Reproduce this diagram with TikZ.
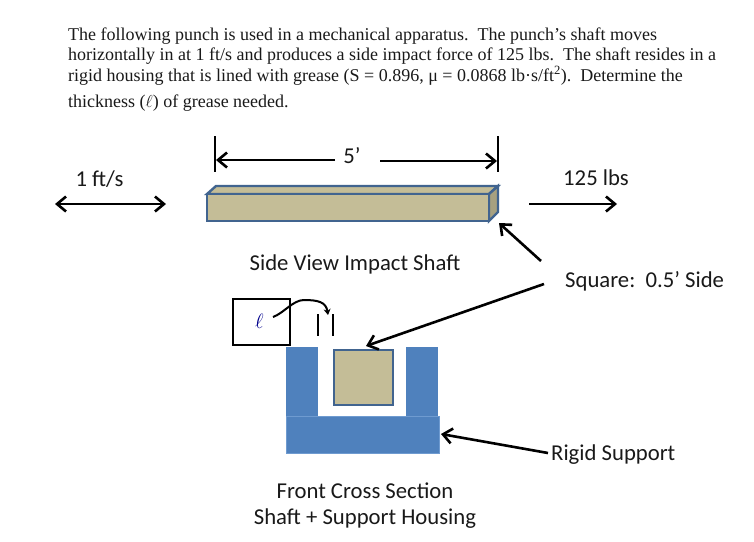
\documentclass[tikz,border=0pt]{standalone}
\usepackage{fontspec}
\setmainfont{Liberation Serif}
\newfontfamily\labelfont{Carlito}
\usetikzlibrary{arrows.meta}
\definecolor{shaftfill}{HTML}{C4BD97}
\definecolor{shaftedge}{HTML}{41648F}
\definecolor{housing}{HTML}{4F81BD}
\definecolor{housingedge}{HTML}{6F9BD0}
\tikzset{
  para/.style={anchor=base west,inner sep=0pt,font=\fontsize{18}{20}\selectfont,text=black!90},
  lbl/.style={inner sep=0pt,font=\labelfont\fontsize{22.7}{26}\selectfont,text=black!90},
  shaftface/.style={fill=shaftfill,draw=shaftedge,line width=2.4pt,line join=miter},
  housingblock/.style={fill=housing,draw=none},
  conn/.style={line width=2.6pt,black,-{Straight Barb[length=9pt,width=15pt,line width=2.6pt]}},
  connboth/.style={line width=2.6pt,black,{Straight Barb[length=9pt,width=15pt,line width=2.6pt]}-{Straight Barb[length=9pt,width=15pt,line width=2.6pt]}},
  tick/.style={line width=2.6pt,black}
}
\begin{document}
\begin{tikzpicture}[x=1pt,y=-1pt]
\useasboundingbox (0,0) rectangle (754,541);
% problem statement
\node[para] (l1) at (68,40) {The following punch is used in a mechanical apparatus.\ \ The punch’s shaft moves};
\node[para] (l2) at (68,60.5) {horizontally in at 1 ft/s and produces a side impact force of 125 lbs.\ \ The shaft resides in a};
\node[para] (l3) at (68,81) {rigid housing that is lined with grease (S = 0.896, μ = 0.0868 lb·s/ft\textsuperscript{2}).\ \ Determine the};
\node[para] (l4) at (68,107) {thickness ($\ell$) of grease needed.};
% side view shaft
\draw[shaftface] (207,194) -- (216,186) -- (498,186) -- (489,194) -- cycle;
\draw[shaftface,fill=shaftfill!85!black] (489,194) -- (498,186) -- (498,212) -- (489,221) -- cycle;
\draw[shaftface] (207,194) rectangle (489,221);
% dimension
\coordinate (dl1) at (215,136); \coordinate (dl2) at (215,172);
\coordinate (dr1) at (498,136); \coordinate (dr2) at (498,172);
\draw[tick] (dl1) -- (dl2);
\draw[tick] (dr1) -- (dr2);
\node[lbl] (five) at (352,156) {5’};
\coordinate (dla) at (216,160); \coordinate (dls) at (335,160);
\coordinate (dra) at (497,161); \coordinate (drs) at (380,161);
\draw[conn] (dls) -- (dla);
\draw[conn] (drs) -- (dra);
% velocity and force
\node[lbl] (vel) at (99.5,179) {1 ft/s};
\coordinate (va) at (55,204); \coordinate (vb) at (166,204);
\draw[connboth] (va) -- (vb);
\node[lbl] (force) at (596,178) {125 lbs};
\coordinate (fa) at (529,204); \coordinate (fb) at (617,204);
\draw[conn] (fa) -- (fb);
\node[lbl] (side) at (355,264) {Side View Impact Shaft};
\node[lbl,anchor=west] (square) at (565,281) {Square:\ \ 0.5’ Side};
% cross section
\node[housingblock,minimum width=32pt,minimum height=69pt,inner sep=0pt,anchor=north west] (hl) at (286,347) {};
\node[housingblock,minimum width=32pt,minimum height=69pt,inner sep=0pt,anchor=north west] (hr) at (406,347) {};
\node[housingblock,draw=housingedge,line width=0.6pt,minimum width=152.5pt,minimum height=36.5pt,inner sep=0pt,anchor=north west] (hb) at (286,416) {};
\node[shaftface,minimum width=59pt,minimum height=55pt,inner sep=0pt,anchor=north west] (sq) at (332.5,348.5) {};
% grease gap
\coordinate (g1a) at (318,314); \coordinate (g1b) at (318,336);
\coordinate (g2a) at (333,314); \coordinate (g2b) at (333,336);
\draw[tick] (g1a) -- (g1b);
\draw[tick] (g2a) -- (g2b);
% ell box
\node[draw=black,line width=2pt,minimum width=57pt,minimum height=46pt,inner sep=0pt,anchor=north west,text=blue!55!black,font=\fontsize{20}{22}\selectfont] (ell) at (232,297.5) {$\ell$\hspace*{4pt}};
\coordinate (ls) at (273,317);
\coordinate (le) at (328,315);
\draw[line width=2pt,black,-{Stealth[length=6pt,width=7pt]}] (ls) .. controls (284,313) and (293,300) .. (304,300) .. controls (318,300) and (326,302) .. (le);
% callouts
\coordinate (c1s) at (541,261); \coordinate (c1e) at (499,223);
\draw[conn] (c1s) -- (c1e);
\coordinate (c2s) at (544,284); \coordinate (c2e) at (366,346);
\draw[conn] (c2s) -- (c2e);
\coordinate (c3s) at (548,453); \coordinate (c3e) at (441,434);
\draw[conn] (c3s) -- (c3e);
\node[lbl,anchor=west] (rigid) at (551,454.5) {Rigid Support};
\node[lbl] (front1) at (365,491) {Front Cross Section};
\node[lbl] (front2) at (365,519) {Shaft + Support Housing};
\end{tikzpicture}
\end{document}
